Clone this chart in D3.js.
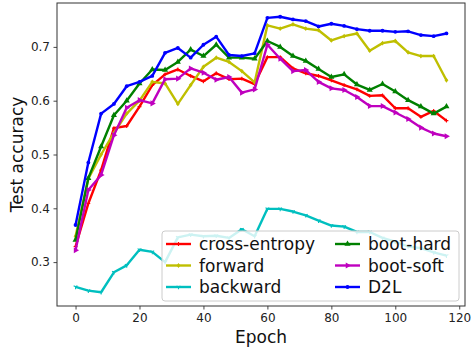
<!DOCTYPE html>
<html><head><meta charset="utf-8">
<script src="https://cdn.jsdelivr.net/npm/d3@7"></script>
<style>body{margin:0;background:#fff}svg{display:block}text{font-family:"DejaVu Sans",sans-serif}</style>
</head><body><svg id="c" width="474" height="350"></svg>
<script>
const epochs = [0,4,8,12,16,20,24,28,32,36,40,44,48,52,56,60,64,68,72,76,80,84,88,92,96,100,104,108,112,116];
const crossEntropy = [0.329,0.409,0.471,0.549,0.553,0.589,0.629,0.649,0.658,0.646,0.636,0.651,0.640,0.641,0.631,0.681,0.681,0.660,0.651,0.646,0.638,0.629,0.621,0.609,0.610,0.586,0.586,0.570,0.581,0.563];
const forward = [0.348,0.455,0.500,0.540,0.576,0.600,0.635,0.632,0.594,0.629,0.663,0.680,0.672,0.655,0.634,0.740,0.734,0.742,0.734,0.731,0.712,0.720,0.725,0.693,0.707,0.711,0.690,0.683,0.683,0.638];
const backward = [0.254,0.247,0.244,0.281,0.294,0.323,0.319,0.300,0.346,0.351,0.348,0.349,0.345,0.361,0.348,0.399,0.399,0.394,0.387,0.377,0.368,0.366,0.356,0.356,0.345,0.338,0.329,0.326,0.318,0.312];
const bootHard = [0.341,0.456,0.515,0.573,0.600,0.632,0.658,0.657,0.672,0.695,0.683,0.704,0.680,0.680,0.678,0.711,0.700,0.683,0.674,0.659,0.644,0.649,0.630,0.620,0.631,0.617,0.601,0.589,0.576,0.589];
const bootSoft = [0.322,0.434,0.462,0.536,0.587,0.601,0.595,0.640,0.641,0.660,0.652,0.639,0.644,0.615,0.621,0.704,0.678,0.655,0.657,0.635,0.623,0.620,0.607,0.590,0.590,0.578,0.566,0.550,0.539,0.534];
const d2l = [0.369,0.485,0.576,0.594,0.627,0.635,0.646,0.689,0.698,0.680,0.704,0.719,0.685,0.683,0.688,0.754,0.756,0.751,0.748,0.738,0.743,0.739,0.733,0.730,0.730,0.728,0.729,0.722,0.720,0.725];
const seriesNames = ["cross-entropy","forward","backward","boot-hard","boot-soft","D2L"];
const xTicks = [0,20,40,60,80,100,120];
const yTicks = [0.3,0.4,0.5,0.6,0.7];

const series = [
  {name:seriesNames[0], values:crossEntropy, color:"#ff0000", marker:"plus"},
  {name:seriesNames[1], values:forward, color:"#bfbf00", marker:"diamond"},
  {name:seriesNames[2], values:backward, color:"#00bfbf", marker:"tri"},
  {name:seriesNames[3], values:bootHard, color:"#008000", marker:"triup"},
  {name:seriesNames[4], values:bootSoft, color:"#bf00bf", marker:"triright"},
  {name:seriesNames[5], values:d2l, color:"#0000ff", marker:"circle"}
];

const svg = d3.select("#c");
const L=57, R=465, T=3, B=306;
const x = d3.scaleLinear().domain([-5.8,121.8]).range([L,R]);
const y = d3.scaleLinear().domain([0.2184,0.7816]).range([B,T]);

const g = svg.append("g");
const line = d3.line().x((d,i)=>x(epochs[i])).y(d=>y(d));

function drawMarker(sel, type, color){
  const s=1.9;
  if(type==="circle") sel.append("circle").attr("r",s).attr("fill",color);
  else if(type==="diamond") sel.append("path").attr("d",`M0,${-s-0.5}L${s},0L0,${s+0.5}L${-s},0Z`).attr("fill",color);
  else if(type==="triup") sel.append("path").attr("d",d3.symbol(d3.symbolTriangle,16)()).attr("fill",color);
  else if(type==="triright") sel.append("path").attr("d",d3.symbol(d3.symbolTriangle,16)()).attr("transform","rotate(90)").attr("fill",color);
  else if(type==="plus") sel.append("path").attr("d",`M${-s},0H${s}M0,${-s}V${s}`).attr("stroke",color).attr("stroke-width",1.1);
  else sel.append("path").attr("d",`M0,0V${s+0.4}M0,0L${-s},${-s+0.8}M0,0L${s},${-s+0.8}`).attr("stroke",color).attr("stroke-width",1.1);
}

series.forEach(s=>{
  g.append("path").datum(s.values).attr("d",line).attr("fill","none").attr("stroke",s.color).attr("stroke-width",2.4).attr("stroke-linejoin","round");
  s.values.forEach((v,i)=>{
    const m=g.append("g").attr("transform",`translate(${x(epochs[i])},${y(v)})`);
    drawMarker(m,s.marker,s.color);
  });
});

// axes
const xAxis = d3.axisBottom(x).tickValues(xTicks).tickSize(3.5).tickPadding(3.5);
const yAxis = d3.axisLeft(y).tickValues(yTicks).tickSize(3.5).tickPadding(3.5).tickFormat(d3.format(".1f"));
const gx = svg.append("g").attr("transform",`translate(0,${B})`).call(xAxis);
const gy = svg.append("g").attr("transform",`translate(${L},0)`).call(yAxis);
[gx,gy].forEach(a=>{a.select(".domain").remove();a.selectAll("text").attr("font-size",12).attr("fill","#222").attr("font-family","DejaVu Sans");a.selectAll("line").attr("stroke","#333").attr("stroke-width",0.9);});
svg.append("rect").attr("x",L).attr("y",T).attr("width",R-L).attr("height",B-T).attr("fill","none").attr("stroke","#333").attr("stroke-width",1);

svg.append("text").attr("x",(L+R)/2).attr("y",343).attr("text-anchor","middle").attr("font-size",17).attr("fill","#111").text("Epoch");
svg.append("text").attr("transform",`translate(23,${(T+B)/2}) rotate(-90)`).attr("text-anchor","middle").attr("font-size",17).attr("fill","#111").text("Test accuracy");

// legend
const lg = svg.append("g");
lg.append("rect").attr("x",162).attr("y",231).attr("width",297).attr("height",70).attr("rx",3).attr("fill","#fff").attr("fill-opacity",0.8).attr("stroke","#ccc").attr("stroke-width",1);
series.forEach((s,i)=>{
  const col=Math.floor(i/3), row=i%3;
  const lx = col===0?166:335, ty = 244+row*21.5;
  const it = lg.append("g");
  it.append("line").attr("x1",lx).attr("x2",lx+25).attr("y1",ty).attr("y2",ty).attr("stroke",s.color).attr("stroke-width",2.4);
  const m=it.append("g").attr("transform",`translate(${lx+12.5},${ty})`);
  drawMarker(m,s.marker,s.color);
  it.append("text").attr("x",lx+33).attr("y",ty).attr("dy","0.36em").attr("font-size",17).attr("fill","#111").text(s.name);
});
</script></body></html>
